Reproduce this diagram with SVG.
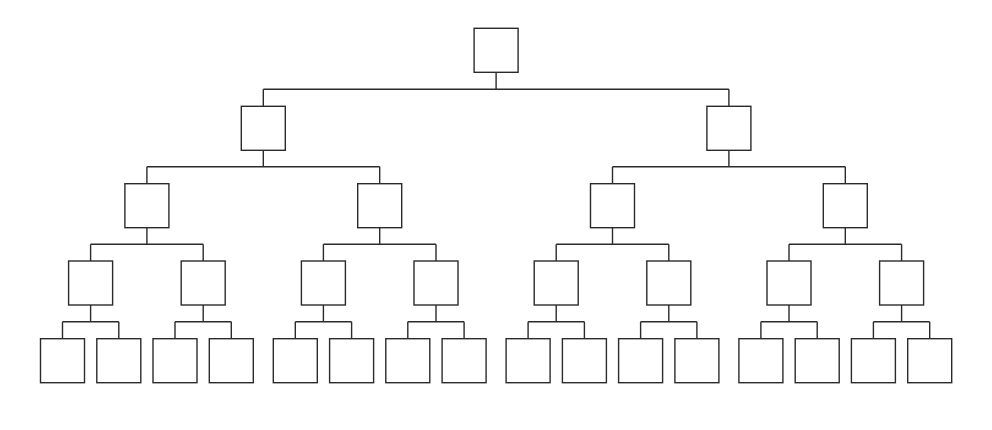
<svg xmlns="http://www.w3.org/2000/svg" width="992" height="430" viewBox="0 0 992 430">
<style>
.n rect{fill:#fff;stroke:#2b2b2b;stroke-width:1.4}
.c path{fill:none;stroke:#2b2b2b;stroke-width:1.4}
</style>
<rect width="992" height="430" fill="#fff"/>
<g class="c" id="connectors">
<path d="M496.1 72.3V89.3M263.3 89.3H728.9M263.3 89.3V106.3M728.9 89.3V106.3"/>
<path d="M263.3 150.3V166.7M146.9 166.7H379.7M146.9 166.7V183.7M379.7 166.7V183.7"/>
<path d="M728.9 150.3V166.7M612.5 166.7H845.3M612.5 166.7V183.7M845.3 166.7V183.7"/>
<path d="M146.9 227.7V244.3M90.6 244.3H203.2M90.6 244.3V261M203.2 244.3V261"/>
<path d="M379.7 227.7V244.3M323.4 244.3H436M323.4 244.3V261M436 244.3V261"/>
<path d="M612.5 227.7V244.3M556.2 244.3H668.8M556.2 244.3V261M668.8 244.3V261"/>
<path d="M845.3 227.7V244.3M789 244.3H901.6M789 244.3V261M901.6 244.3V261"/>
<path d="M90.6 305V321.7M62.5 321.7H118.8M62.5 321.7V338.7M118.8 321.7V338.7"/>
<path d="M203.2 305V321.7M175 321.7H231.3M175 321.7V338.7M231.3 321.7V338.7"/>
<path d="M323.4 305V321.7M295.3 321.7H351.6M295.3 321.7V338.7M351.6 321.7V338.7"/>
<path d="M436 305V321.7M407.8 321.7H464.1M407.8 321.7V338.7M464.1 321.7V338.7"/>
<path d="M556.2 305V321.7M528.1 321.7H584.4M528.1 321.7V338.7M584.4 321.7V338.7"/>
<path d="M668.8 305V321.7M640.6 321.7H696.9M640.6 321.7V338.7M696.9 321.7V338.7"/>
<path d="M789 305V321.7M760.9 321.7H817.2M760.9 321.7V338.7M817.2 321.7V338.7"/>
<path d="M901.6 305V321.7M873.4 321.7H929.7M873.4 321.7V338.7M929.7 321.7V338.7"/>
</g>
<g class="n" id="root"><rect x="474.1" y="28.3" width="44" height="44"/></g>
<g class="n" id="n1a"><rect x="241.3" y="106.3" width="44" height="44"/></g>
<g class="n" id="n1b"><rect x="706.9" y="106.3" width="44" height="44"/></g>
<g class="n" id="n2a"><rect x="124.9" y="183.7" width="44" height="44"/></g>
<g class="n" id="n2b"><rect x="357.7" y="183.7" width="44" height="44"/></g>
<g class="n" id="n2c"><rect x="590.5" y="183.7" width="44" height="44"/></g>
<g class="n" id="n2d"><rect x="823.3" y="183.7" width="44" height="44"/></g>
<g class="n" id="n3a"><rect x="68.6" y="261" width="44" height="44"/></g>
<g class="n" id="n3b"><rect x="181.2" y="261" width="44" height="44"/></g>
<g class="n" id="n3c"><rect x="301.4" y="261" width="44" height="44"/></g>
<g class="n" id="n3d"><rect x="414" y="261" width="44" height="44"/></g>
<g class="n" id="n3e"><rect x="534.2" y="261" width="44" height="44"/></g>
<g class="n" id="n3f"><rect x="646.8" y="261" width="44" height="44"/></g>
<g class="n" id="n3g"><rect x="767" y="261" width="44" height="44"/></g>
<g class="n" id="n3h"><rect x="879.6" y="261" width="44" height="44"/></g>
<g class="n" id="l01"><rect x="40.5" y="338.7" width="44" height="44"/></g>
<g class="n" id="l02"><rect x="96.8" y="338.7" width="44" height="44"/></g>
<g class="n" id="l03"><rect x="153" y="338.7" width="44" height="44"/></g>
<g class="n" id="l04"><rect x="209.3" y="338.7" width="44" height="44"/></g>
<g class="n" id="l05"><rect x="273.3" y="338.7" width="44" height="44"/></g>
<g class="n" id="l06"><rect x="329.6" y="338.7" width="44" height="44"/></g>
<g class="n" id="l07"><rect x="385.8" y="338.7" width="44" height="44"/></g>
<g class="n" id="l08"><rect x="442.1" y="338.7" width="44" height="44"/></g>
<g class="n" id="l09"><rect x="506.1" y="338.7" width="44" height="44"/></g>
<g class="n" id="l10"><rect x="562.4" y="338.7" width="44" height="44"/></g>
<g class="n" id="l11"><rect x="618.6" y="338.7" width="44" height="44"/></g>
<g class="n" id="l12"><rect x="674.9" y="338.7" width="44" height="44"/></g>
<g class="n" id="l13"><rect x="738.9" y="338.7" width="44" height="44"/></g>
<g class="n" id="l14"><rect x="795.2" y="338.7" width="44" height="44"/></g>
<g class="n" id="l15"><rect x="851.4" y="338.7" width="44" height="44"/></g>
<g class="n" id="l16"><rect x="907.7" y="338.7" width="44" height="44"/></g>
</svg>
